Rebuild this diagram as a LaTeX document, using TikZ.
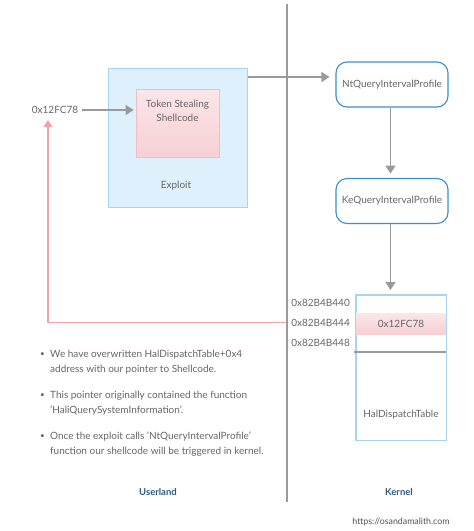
\documentclass[tikz,border=0pt]{standalone}
\usepackage{fontspec}
\setmainfont{Lato}
\usetikzlibrary{arrows.meta}
\definecolor{txtgray}{HTML}{666666}
\definecolor{linegray}{HTML}{9A9A9A}
\definecolor{exfill}{HTML}{DDF0FB}
\definecolor{exdraw}{HTML}{A6D5F0}
\definecolor{pinkfill}{HTML}{FBE6E8}
\definecolor{pinkfillb}{HTML}{F6D0D4}
\definecolor{pinkdraw}{HTML}{F2BCC1}
\definecolor{pinkline}{HTML}{F1A3AA}
\definecolor{roundblue}{HTML}{3F8CD0}
\definecolor{headblue}{HTML}{2E5C80}
\tikzset{
  lbl/.style={text=txtgray, font=\fontsize{10}{12}\selectfont, inner sep=1pt},
  exploitbox/.style={draw=exdraw, fill=exfill, line width=0.8pt, inner sep=0pt},
  shellbox/.style={draw=pinkdraw, top color=pinkfill, bottom color=pinkfillb, line width=0.8pt, inner sep=0pt},
  funcbox/.style={draw=roundblue, fill=white, line width=1.1pt, rounded corners=11pt, inner sep=0pt,
    minimum width=112pt, minimum height=45pt, text=txtgray, font=\fontsize{10}{12}\selectfont},
  tablebox/.style={draw=exdraw, fill=white, line width=0.8pt, inner sep=0pt},
  rowpink/.style={draw=none, inner sep=0pt, top color=pinkfill, bottom color=pinkfillb},
  grayarrow/.style={draw=linegray, line width=1.4pt, -{Triangle[length=8pt,width=10pt]}},
  pinkarrow/.style={draw=pinkline, line width=1.1pt, -{Triangle[length=7pt,width=9pt]}},
  divider/.style={draw=linegray, line width=1.3pt},
  bullettxt/.style={text=txtgray, font=\fontsize{10}{14.5}\selectfont, align=left, inner sep=0pt, anchor=north west},
  bulletdot/.style={text=txtgray, font=\fontsize{8}{10}\selectfont, inner sep=0pt},
  header/.style={text=headblue, font=\fontsize{9.5}{11}\selectfont\bfseries},
}
\begin{document}
\begin{tikzpicture}[x=1pt,y=-1pt]
\useasboundingbox[fill=white] (0,0) rectangle (474,531);

% divider
\coordinate (divtop) at (287,4);
\coordinate (divbot) at (287,502);
\draw[divider] (divtop) -- (divbot);

% userland
\node[exploitbox, minimum width=139pt, minimum height=139pt] (exploit) at (177.5,137.5) {};
\node[shellbox, minimum width=83pt, minimum height=68pt] (shell) at (177.5,123) {};
\node[lbl, align=center, font=\fontsize{10}{13.5}\selectfont] (shelltxt) at (177.5,111) {Token Stealing\\Shellcode};
\node[lbl] (exploitlbl) at (176,186) {Exploit};
\node[lbl] (ptr) at (55,110) {0x12FC78};
\draw[grayarrow, shorten >=2pt] (ptr.east) ++(3,0) -- (shell.west |- ptr.east);

% kernel functions
\node[funcbox] (nt) at (392,84.5) {NtQueryIntervalProfile};
\node[funcbox] (ke) at (392,201) {KeQueryIntervalProfile};
\coordinate (exout) at (247.5,77);
\draw[grayarrow, shorten >=6pt] (exout) -- (nt.west |- exout);
\draw[grayarrow, shorten >=5pt] (nt.south) ++(-1.5,0) -- ++(0,71);
\draw[grayarrow] (ke.south) ++(-1.5,0) coordinate (kes) -- (kes |- 0,290) coordinate (tbltip);

% table
\node[tablebox, minimum width=90pt, minimum height=145pt] (tbl) at (401,367.5) {};
\node[rowpink, minimum width=90pt, minimum height=21pt] (row2) at (401,323.5) {};
\draw[draw=exdraw, line width=0.8pt] (tbl.north west) rectangle (tbl.south east);
\node[lbl] (row2txt) at (row2) {0x12FC78};
\coordinate (sepl) at (354,352);
\coordinate (sepr) at (446,352);
\draw[draw=linegray, line width=1.1pt] (sepl) -- (sepr);
\node[lbl, anchor=east] (a0) at (351,303) {0x82B4B440};
\node[lbl, anchor=east] (a1) at (351,323) {0x82B4B444};
\node[lbl, anchor=east] (a2) at (351,343) {0x82B4B448};
\node[lbl] (haltxt) at (401,415) {HalDispatchTable};

% pink connector
\coordinate (corner) at (48,322.5);
\coordinate (ptrtip) at (48,120);
\draw[pinkarrow, shorten <=4pt] (a1.west |- corner) -- (corner) -- (ptrtip);

% bullets
\node[bulletdot] (bul1) at (42.5,354.5) {\textbullet};
\node[bullettxt] (b1) at (50,350) {We have overwritten HalDispatchTable+0x4\\address with our pointer to Shellcode.};
\node[bulletdot] (bul2) at (42.5,395.5) {\textbullet};
\node[bullettxt] (b2) at (50,391) {This pointer originally contained the function\\'HaliQuerySystemInformation'.};
\node[bulletdot] (bul3) at (42.5,436.5) {\textbullet};
\node[bullettxt] (b3) at (50,432) {Once the exploit calls 'NtQueryIntervalProfile'\\function our shellcode will be triggered in kernel.};

% headers
\node[header] (userland) at (158,492) {Userland};
\node[header] (kernel) at (399,492) {Kernel};
\node[text=txtgray!80!black, font=\fontsize{8.8}{10}\selectfont] (url) at (401,522) {https://osandamalith.com};
\end{tikzpicture}
\end{document}
